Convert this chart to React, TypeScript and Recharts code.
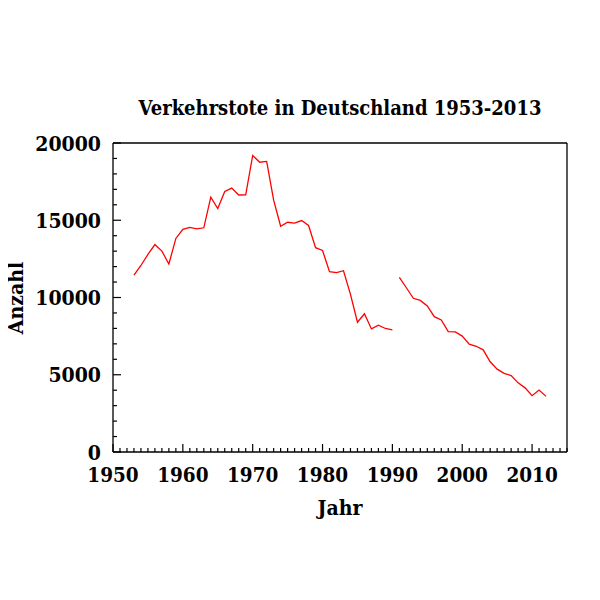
import { Line, LineChart, XAxis, YAxis } from 'recharts';

// Verkehrstote (Westdeutschland bis 1990, danach Gesamtdeutschland)
const yearsWest = [
  1953, 1954, 1955, 1956, 1957, 1958, 1959, 1960, 1961, 1962, 1963, 1964, 1965, 1966, 1967,
  1968, 1969, 1970, 1971, 1972, 1973, 1974, 1975, 1976, 1977, 1978, 1979, 1980, 1981, 1982,
  1983, 1984, 1985, 1986, 1987, 1988, 1989, 1990,
];
const valuesWest = [
  11449, 12071, 12791, 13427, 13004, 12169, 13822, 14406, 14543, 14445, 14513, 16494, 15753,
  16868, 17084, 16636, 16646, 19193, 18753, 18811, 16302, 14614, 14870, 14820, 14978, 14662,
  13222, 13041, 11674, 11608, 11732, 10199, 8400, 8948, 7967, 8213, 7995, 7906,
];
const yearsGesamt = [
  1991, 1992, 1993, 1994, 1995, 1996, 1997, 1998, 1999, 2000, 2001, 2002, 2003, 2004, 2005,
  2006, 2007, 2008, 2009, 2010, 2011, 2012,
];
const valuesGesamt = [
  11300, 10631, 9949, 9814, 9454, 8758, 8549, 7792, 7772, 7503, 6977, 6842, 6613, 5842, 5361,
  5091, 4949, 4477, 4152, 3648, 4009, 3600,
];

// alle Jahre bzw. Tausender als Ticks, beschriftet werden nur die großen
const xTicks = Array.from({ length: 66 }, (_, i) => 1950 + i);
const yTicks = Array.from({ length: 21 }, (_, i) => i * 1000);
const isMajorX = (v: number) => v % 10 === 0;
const isMajorY = (v: number) => v % 5000 === 0;

const data = [
  ...yearsWest.map((year, i) => ({ year, west: valuesWest[i], gesamt: null as number | null })),
  ...yearsGesamt.map((year, i) => ({ year, west: null as number | null, gesamt: valuesGesamt[i] })),
];

const font = "'DejaVu Serif', serif";
const MAJOR = 8;
const MINOR = 4;

const makeTick = (side: 'bottom' | 'top' | 'left' | 'right') => (props: any) => {
  const { x, y, payload } = props;
  const v = payload.value as number;
  const horiz = side === 'bottom' || side === 'top';
  const major = horiz ? isMajorX(v) : isMajorY(v);
  const len = major ? MAJOR : MINOR;
  const d = side === 'bottom' || side === 'right' ? -len : len;
  return (
    <g>
      <line
        x1={x}
        y1={y}
        x2={horiz ? x : x + d}
        y2={horiz ? y + d : y}
        stroke="#000"
        strokeWidth={1.2}
      />
      {major && side === 'bottom' && (
        <text x={x} y={y + 29.5} textAnchor="middle" fontFamily={font} fontWeight="bold" fontStretch="condensed" fontSize={20.5} fill="#000">
          {v}
        </text>
      )}
      {major && side === 'left' && (
        <text x={x - 12} y={y + 7.5} textAnchor="end" fontFamily={font} fontWeight="bold" fontStretch="condensed" fontSize={21} fill="#000">
          {v}
        </text>
      )}
    </g>
  );
};

const axisLine = { stroke: '#000', strokeWidth: 1.3 };

export default function App() {
  return (
    <div style={{ position: 'relative', width: 600, height: 600, margin: -8 }}>
      <LineChart
        width={600}
        height={600}
        data={data}
        margin={{ top: 142, right: 32, bottom: 147, left: 112 }}
      >
        <XAxis xAxisId="b" dataKey="year" type="number" domain={[1950, 2015]} ticks={xTicks} interval={0} height={1} tickSize={0} tickMargin={0} tickLine={false} axisLine={axisLine} tick={makeTick('bottom')} />
        <XAxis xAxisId="t" orientation="top" type="number" domain={[1950, 2015]} ticks={xTicks} interval={0} height={1} tickSize={0} tickMargin={0} tickLine={false} axisLine={axisLine} tick={makeTick('top')} />
        <YAxis yAxisId="l" type="number" domain={[0, 20000]} ticks={yTicks} interval={0} width={1} tickSize={0} tickMargin={0} tickLine={false} axisLine={axisLine} tick={makeTick('left')} />
        <YAxis yAxisId="r" orientation="right" type="number" domain={[0, 20000]} ticks={yTicks} interval={0} width={1} tickSize={0} tickMargin={0} tickLine={false} axisLine={axisLine} tick={makeTick('right')} />
        <Line xAxisId="b" yAxisId="l" type="linear" dataKey="west" stroke="#ff0000" strokeWidth={1.3} dot={false} connectNulls={false} isAnimationActive={false} />
        <Line xAxisId="b" yAxisId="l" type="linear" dataKey="gesamt" stroke="#ff0000" strokeWidth={1.3} dot={false} connectNulls={false} isAnimationActive={false} />
      </LineChart>
      <svg width={600} height={600} style={{ position: 'absolute', left: 0, top: 0, pointerEvents: 'none' }}>
        <g fontFamily={font} fontWeight="bold" fontStretch="condensed" fill="#000">
          <text x={340} y={115} textAnchor="middle" fontSize={20}>
            Verkehrstote in Deutschland 1953-2013
          </text>
          <text x={340} y={515} textAnchor="middle" fontSize={21}>
            Jahr
          </text>
          <text x={23} y={298} textAnchor="middle" fontSize={21} transform="rotate(-90 23 298)">
            Anzahl
          </text>
        </g>
      </svg>
    </div>
  );
}
